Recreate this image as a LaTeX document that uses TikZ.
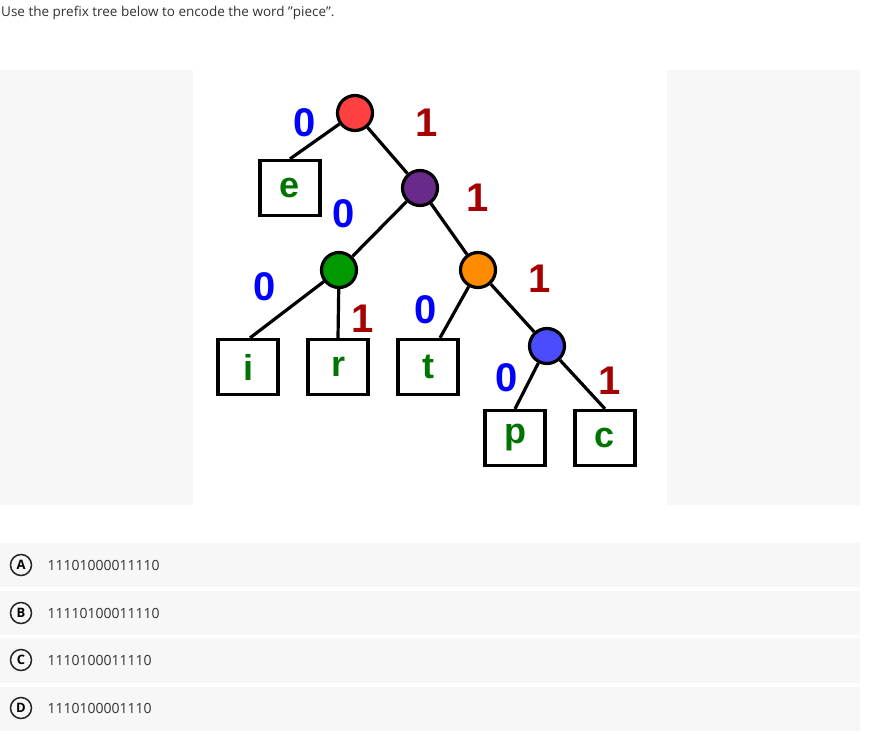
\documentclass[tikz,border=0pt]{standalone}
\usepackage{fontspec}
\setmainfont{Open Sans}
\newfontfamily\lbl{Liberation Sans}
\definecolor{purp}{HTML}{6A2A8C}
\begin{document}
\begin{tikzpicture}[x=1pt,y=-1pt,
  inner/.style={circle,draw=black,line width=3.2pt,minimum size=35pt,inner sep=0pt},
  leaf/.style={draw=black,line width=3.2pt,minimum width=60pt,minimum height=55pt,inner sep=0pt,font=\lbl\bfseries\fontsize{36}{36}\selectfont,text=green!45!black},
  edge/.style={line width=3.2pt},
  zero/.style={font=\lbl\bfseries\fontsize{40}{40}\selectfont,text=blue},
  one/.style={font=\lbl\bfseries\fontsize{40}{40}\selectfont,text=red!65!black},
  panel/.style={fill=black!3,draw=none},
  opt/.style={circle,draw=black!85,line width=1.5pt,minimum size=21pt,inner sep=0pt,font=\bfseries\fontsize{13}{13}\selectfont},
  ans/.style={anchor=west,font=\fontsize{14}{14}\selectfont,text=black!80}]
\useasboundingbox (0,0) rectangle (893,733);
\fill[white] (0,0) rectangle (893,733);
\node[anchor=west,inner sep=0pt,font=\fontsize{13.5}{14}\selectfont,text=black!80] (title) at (1,13) {Use the prefix tree below to encode the word "piece".};
\fill[panel] (0,70) rectangle (193,505);
\fill[panel] (667,70) rectangle (860,505);
% tree
\node[inner,fill=red!75] (n0) at (355,113) {};
\node[inner,fill=purp] (n1) at (420,188) {};
\node[inner,fill=green!60!black] (n2) at (339,270) {};
\node[inner,fill=orange!90!yellow] (n3) at (478,270) {};
\node[inner,fill=blue!70] (n4) at (547,346) {};
\node[leaf] (e) at (290,188) {e};
\node[leaf] (i) at (248,367) {i};
\node[leaf] (r) at (338,367) {r};
\node[leaf] (t) at (428,367) {t};
\node[leaf] (p) at (515,438) {p};
\node[leaf] (c) at (605,438) {c};
\draw[edge] (n0) -- (e.north);
\draw[edge] (n0) -- (n1);
\draw[edge] (n1) -- (n2);
\draw[edge] (n1) -- (n3);
\draw[edge] (n2) -- ([xshift=2pt]i.north);
\draw[edge] (n2) -- (r.north);
\draw[edge] (n3) -- ([xshift=12pt]t.north);
\draw[edge] (n3) -- (n4);
\draw[edge] (n4) -- (p.north);
\draw[edge] (n4) -- (c.north);
\node[zero] (l1) at (305,123) {0};
\node[one] (l2) at (427,123) {1};
\node[zero] (l3) at (344,214) {0};
\node[one] (l4) at (478,198) {1};
\node[zero] (l5) at (265,287) {0};
\node[one] (l6) at (363,319) {1};
\node[zero] (l7) at (426,310) {0};
\node[one] (l8) at (540,279) {1};
\node[zero] (l9) at (507,378) {0};
\node[one] (l10) at (610,381) {1};
% options
\fill[panel] (0,543) rectangle (860,587);
\fill[panel] (0,591) rectangle (860,635);
\fill[panel] (0,638) rectangle (860,683);
\fill[panel] (0,687) rectangle (860,731);
\node[opt] (oa) at (21,565) {A};
\node[opt] (ob) at (21,613) {B};
\node[opt] (oc) at (21,660) {C};
\node[opt] (od) at (21,708) {D};
\node[ans] (ta) at (44,565) {11101000011110};
\node[ans] (tb) at (44,613) {11110100011110};
\node[ans] (tc) at (44,660) {1110100011110};
\node[ans] (td) at (44,708) {1110100001110};
\end{tikzpicture}
\end{document}
